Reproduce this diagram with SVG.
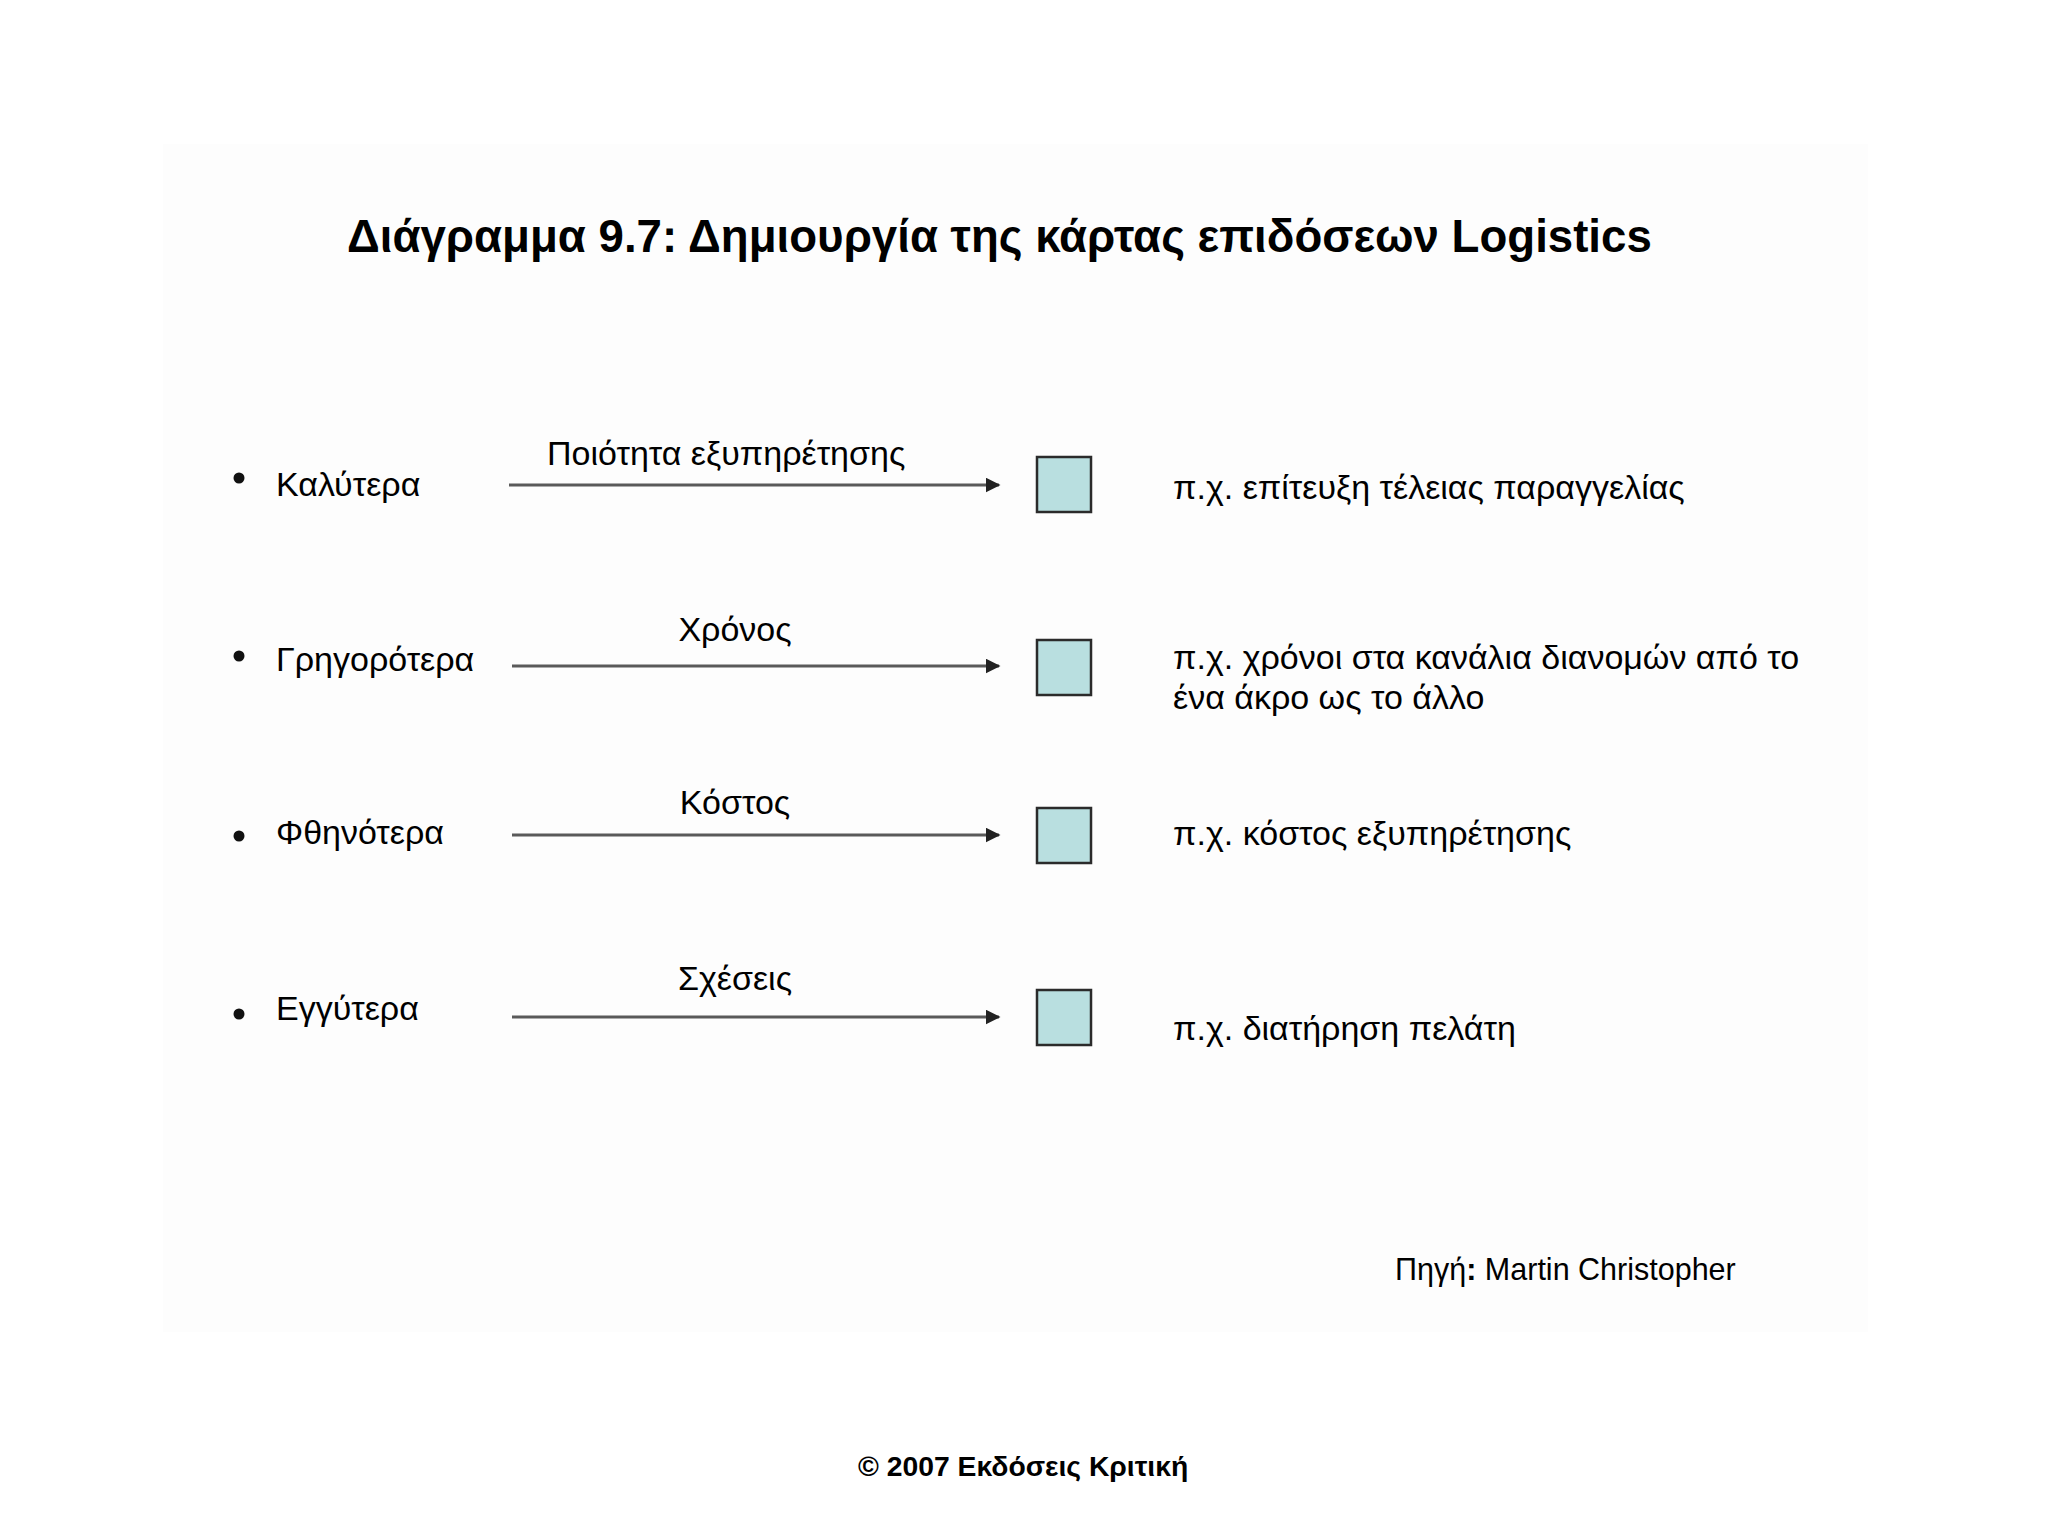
<svg xmlns="http://www.w3.org/2000/svg" width="2048" height="1536" viewBox="0 0 2048 1536">
<style>
.t{font-family:"Liberation Sans",Arial,sans-serif;fill:#000}
.b{font-size:34px}
.box{fill:#b9dfe0;stroke:#2b2b2b;stroke-width:2.5}
.arr{stroke:#5a5a5a;stroke-width:3;fill:none;marker-end:url(#ah)}
.dot{fill:#111}
</style>
<defs>
<marker id="ah" viewBox="0 0 10 10" refX="9" refY="5" markerWidth="5" markerHeight="5" orient="auto" markerUnits="strokeWidth">
<path d="M0,0 L10,5 L0,10 z" fill="#222"/>
</marker>
</defs>
<rect width="2048" height="1536" fill="#fff"/>
<rect x="163" y="144" width="1705" height="1188" fill="#fdfdfd"/>
<text class="t" x="347" y="252" font-size="45.6" font-weight="bold">Διάγραμμα 9.7: Δημιουργία της κάρτας επιδόσεων Logistics</text>

<g id="row1">
<circle class="dot" cx="239" cy="478" r="5.5"/>
<text class="t b" x="276" y="496">Καλύτερα</text>
<text class="t b" x="547" y="465">Ποιότητα εξυπηρέτησης</text>
<rect class="box" x="1037" y="457" width="54" height="55"/>
<text class="t b" x="1173" y="499">π.χ. επίτευξη τέλειας παραγγελίας</text>
</g>
<g id="row2">
<circle class="dot" cx="239" cy="656" r="5.5"/>
<text class="t b" x="276" y="671">Γρηγορότερα</text>
<text class="t b" x="735" y="641" text-anchor="middle">Χρόνος</text>
<rect class="box" x="1037" y="640" width="54" height="55"/>
<text class="t b" x="1173" y="669">π.χ. χρόνοι στα κανάλια διανομών από το</text>
<text class="t b" x="1173" y="709">ένα άκρο ως το άλλο</text>
</g>
<g id="row3">
<circle class="dot" cx="239" cy="836" r="5.5"/>
<text class="t b" x="276" y="844">Φθηνότερα</text>
<text class="t b" x="735" y="814" text-anchor="middle">Κόστος</text>
<rect class="box" x="1037" y="808" width="54" height="55"/>
<text class="t b" x="1173" y="845">π.χ. κόστος εξυπηρέτησης</text>
</g>
<g id="row4">
<circle class="dot" cx="239" cy="1014" r="5.5"/>
<text class="t b" x="276" y="1020">Εγγύτερα</text>
<text class="t b" x="735" y="990" text-anchor="middle">Σχέσεις</text>
<rect class="box" x="1037" y="990" width="54" height="55"/>
<text class="t b" x="1173" y="1040">π.χ. διατήρηση πελάτη</text>
</g>
<g id="connectors">
<line class="arr" x1="509" y1="485" x2="999" y2="485"/>
<line class="arr" x1="512" y1="666" x2="999" y2="666"/>
<line class="arr" x1="512" y1="835" x2="999" y2="835"/>
<line class="arr" x1="512" y1="1017" x2="999" y2="1017"/>
</g>
<text class="t" x="1395" y="1280" font-size="30.5">Πηγή<tspan font-weight="bold">:</tspan> Martin Christopher</text>
<text class="t" x="858" y="1476" font-size="28.3" font-weight="bold">© 2007 Εκδόσεις Κριτική</text>
</svg>
